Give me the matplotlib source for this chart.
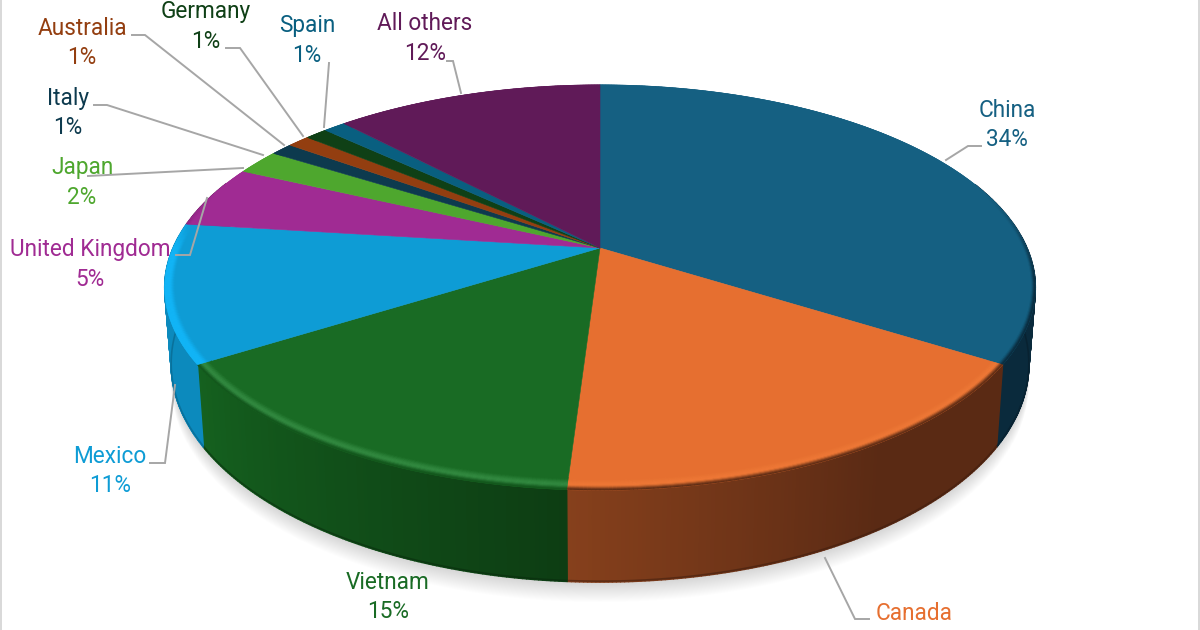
import numpy as np
import matplotlib
matplotlib.use('Agg')
from matplotlib import pyplot as plt
from matplotlib.collections import PolyCollection
from matplotlib.colors import to_rgb

countries = ['China', 'Canada', 'Vietnam', 'Mexico', 'United Kingdom', 'Japan',
             'Italy', 'Australia', 'Germany', 'Spain', 'All others']
shares = [34, 17, 15, 11, 5, 2, 1, 1, 1, 1, 12]
colors = ['#156082', '#e66f30', '#196b24', '#0e9cd5', '#a02b93', '#4ea72e',
          '#0d3a4e', '#933e10', '#0f4016', '#095f80', '#601a58']
# side wall colour at the start and end of each slice (clockwise)
wall_a = ['#0a2a3c', '#5a2a14', '#0d3d13', '#0c8abd', '#6a1c60', '#2f641c',
          '#082330', '#5a2a14', '#0a2a10', '#063c50', '#3c1038']
wall_b = ['#0a2a3c', '#86401c', '#15611f', '#0c8abd', '#6a1c60', '#2f641c',
          '#082330', '#5a2a14', '#0a2a10', '#063c50', '#3c1038']
# bevel: highlight part way out, then the colour at the very edge
rim_light = ['#156082', '#ee7836', '#338a41', '#12b6f8', '#a02b93', '#4ea72e',
             '#0d3a4e', '#933e10', '#0f4016', '#095f80', '#601a58']
rim_dark = ['#0a2a3c', '#5a2a14', '#12551b', '#12b6f8', '#6a1c60', '#2f641c',
            '#082330', '#5a2a14', '#0a2a10', '#063c50', '#3c1038']

# label centre for each country, x and y of the first line
label_x = [1007, 914, 388, 110, 90, 82, 68, 82, 206, 307, 425]
label_y = [109, 612, 581, 455, 248, 166, 97, 27, 10, 24, 22]

# leader lines, label side last
leaders = [
    [(946, 160), (968, 146), (981, 146)],
    [(825, 558), (855, 619), (869, 619)],
    [(175, 385), (165, 463), (150, 463)],
    [(207, 198), (190, 255), (176, 255)],
    [(243, 168), (88, 176)],
    [(263, 155), (107, 105), (94, 105)],
    [(284, 145), (145, 35), (132, 35)],
    [(303, 136), (240, 48), (226, 48)],
    [(324, 127), (329, 63)],
    [(461, 93), (453, 61), (447, 61)],
]

# perspective of the pie disc
CX, CY = 600, 248
A, B, K = 427, 195, 0.195
DEPTH = 74
LOW_SCALE = 0.985


def project(theta, r=1.0):
    # theta clockwise from 12 o'clock, y runs toward the viewer
    x = r * np.sin(theta)
    y = -r * np.cos(theta)
    d = 1 - K * y
    return CX + A * x / d, CY + B * y / d


def project_low(theta):
    x, y = project(theta)
    d = 1 + K * np.cos(theta)
    return CX + (x - CX) * LOW_SCALE, y + DEPTH / d


def mix(c1, c2, t):
    return tuple(np.array(c1) * (1 - t) + np.array(c2) * t)


def smooth(v, a, b):
    t = np.clip((v - a) / (b - a), 0, 1)
    return t * t * (3 - 2 * t)


fig = plt.figure(figsize=(12, 6.3), dpi=100)
ax = fig.add_axes([0, 0, 1, 1])
ax.set_xlim(0, 1200)
ax.set_ylim(630, 0)
ax.axis('off')
plt.rcParams['font.family'] = ['Roboto', 'DejaVu Sans']

# edge lines of the frame
ax.fill_between([0, 2], 0, 630, color='#d9d9d9', lw=0)
ax.fill_between([1198, 1200], 0, 630, color='#d9d9d9', lw=0)

# soft shadow under the pie
full = np.linspace(0, 2 * np.pi, 361)
sx, sy = project_low(full)
for off in np.linspace(0, 20, 22):
    ax.fill(sx, sy + off, color='black', alpha=0.007, lw=0, zorder=1)

cum = np.cumsum([0] + shares) / sum(shares) * 2 * np.pi
steps = np.maximum(np.array(shares) * 8, 8)

# side wall
wall_polys, wall_cols = [], []
for i in range(len(shares)):
    th = np.linspace(cum[i], cum[i + 1], steps[i] + 1)
    ca, cb = to_rgb(wall_a[i]), to_rgb(wall_b[i])
    for j in range(steps[i]):
        if np.cos(th[j]) > 0.35:
            continue
        x1, y1 = project(th[j:j + 2])
        x2, y2 = project_low(th[j:j + 2])
        wall_polys.append(np.c_[np.r_[x1, x2[::-1]], np.r_[y1, y2[::-1]]])
        frac = (j + 0.5) / steps[i]
        # Canada stays flat dark over its first part
        t = max(0, (frac - 0.4) / 0.6) if i == 1 else frac
        wall_cols.append(mix(ca, cb, t))
ax.add_collection(PolyCollection(wall_polys, facecolors=wall_cols, edgecolors=wall_cols,
                                 linewidths=1.0, zorder=2))

# bottom lip of the wall
for i in range(len(shares)):
    th = np.linspace(cum[i], cum[i + 1], steps[i] + 1)
    th = th[np.cos(th) <= 0.2]
    if len(th) > 1:
        lx, ly = project_low(th)
        ax.plot(lx, ly - 1, color=mix(to_rgb(wall_a[i]), (0, 0, 0), 0.35), lw=1.2,
                alpha=0.5, zorder=3, solid_capstyle='butt')

# top face
for i in range(len(shares)):
    th = np.linspace(cum[i], cum[i + 1], steps[i] + 1)
    x, y = project(th)
    ax.fill(np.r_[CX, x], np.r_[CY, y], color=colors[i], lw=0.4, zorder=4)

# bevel rings between top face and wall, narrower at the sides of the disc
n_rings = 12
bevel_polys, bevel_cols = [], []
for i in range(len(shares)):
    th = np.linspace(cum[i], cum[i + 1], steps[i] + 1)
    top = to_rgb(colors[i])
    light = to_rgb(rim_light[i])
    dark = to_rgb(rim_dark[i])
    for j in range(steps[i]):
        front = -np.cos((th[j] + th[j + 1]) / 2)
        width = 0.026 + 0.018 * front ** 2
        vis_dark = smooth(front, -0.35, 0.25)
        vis_light = smooth(front, -0.15, 0.05)
        for k in range(n_rings):
            t = (k + 0.5) / n_rings
            col = mix(top, light, vis_light * smooth(t, 0.1, 0.62))
            col = mix(col, dark, vis_dark * smooth(t, 0.62, 1.0))
            xa, ya = project(th[j:j + 2], 1 - width * (1 - k / n_rings))
            xb, yb = project(th[j:j + 2], 1 - width * (1 - (k + 1) / n_rings))
            bevel_polys.append(np.c_[np.r_[xa, xb[::-1]], np.r_[ya, yb[::-1]]])
            bevel_cols.append(col)
ax.add_collection(PolyCollection(bevel_polys, facecolors=bevel_cols, edgecolors=bevel_cols,
                                 linewidths=0.3, zorder=5))

# leader lines and labels
for pts in leaders:
    px, py = zip(*pts)
    ax.plot(px, py, color='#a6a6a6', lw=1.4, zorder=6, solid_joinstyle='miter')

for name, val, lx, ly, col in zip(countries, shares, label_x, label_y, colors):
    ax.text(lx, ly + 1.5, name, color=col, fontsize=16.3, ha='center', va='center', zorder=7)
    if ly + 31 < 630:
        ax.text(lx, ly + 31, f'{val}%', color=col, fontsize=16.3, ha='center', va='center', zorder=7)

fig.savefig('out.png', dpi=100)
